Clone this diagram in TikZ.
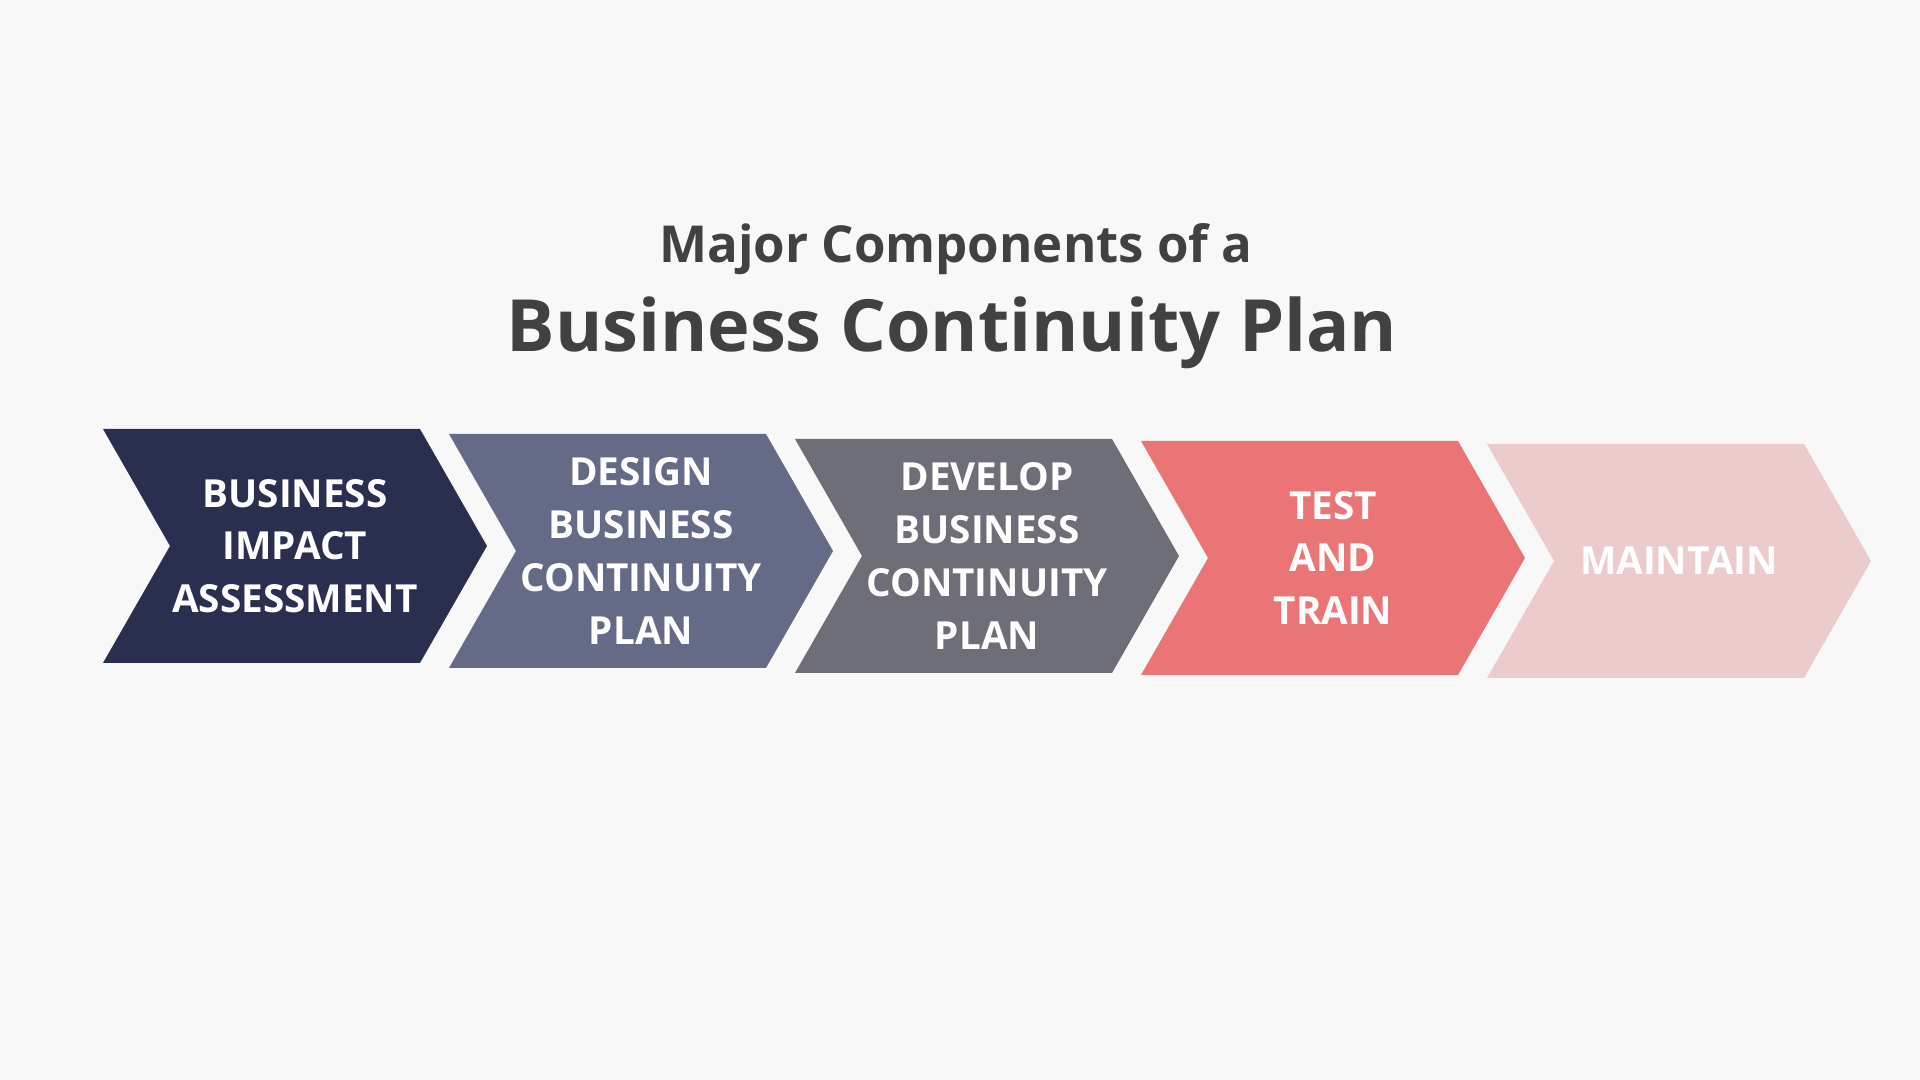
\documentclass[tikz,border=0pt]{standalone}
\usepackage{fontspec}
\setmainfont{Open Sans}
\definecolor{bgcol}{HTML}{F8F8F8}
\definecolor{titlecol}{HTML}{414141}
\definecolor{stepA}{HTML}{2B2F4F}
\definecolor{stepB}{HTML}{656A86}
\definecolor{stepC}{HTML}{6E6E78}
\definecolor{stepD}{HTML}{EB7476}
\definecolor{stepE}{HTML}{EBCBCC}
\tikzset{
  steplabel/.style={text=white,font=\fontsize{11pt}{15pt}\selectfont\bfseries,align=center},
  titletext/.style={text=titlecol,font=\bfseries}
}
\begin{document}
\begin{tikzpicture}
  \fill[bgcol] (0,0) rectangle (19.2,10.8);
  \useasboundingbox (0,0) rectangle (19.2,10.8);
  % title
  \node[titletext,font=\fontsize{14.5pt}{17pt}\selectfont\bfseries] (sub) at (9.56,8.31) {Major Components of a};
  \node[titletext,font=\fontsize{20.5pt}{24pt}\selectfont\bfseries] (main) at (9.52,7.47) {Business Continuity Plan};
  % chevrons
  \foreach \i/\yc/\col/\txt in {0/5.34/stepA/{BUSINESS\\IMPACT\\ASSESSMENT},
                                1/5.29/stepB/{DESIGN\\BUSINESS\\CONTINUITY\\PLAN},
                                2/5.24/stepC/{DEVELOP\\BUSINESS\\CONTINUITY\\PLAN},
                                3/5.22/stepD/{TEST\\AND\\TRAIN},
                                4/5.19/stepE/{MAINTAIN}} {
    \pgfmathsetmacro{\xs}{1.03+3.46*\i}
    \fill[\col] (\xs,\yc+1.17) -- ++(3.17,0) -- ++(0.67,-1.17) -- ++(-0.67,-1.17)
                -- ++(-3.17,0) -- ++(0.67,1.17) -- cycle;
    \node[steplabel] (step\i) at (\xs+1.92,\yc) {\txt};
  }
\end{tikzpicture}
\end{document}
